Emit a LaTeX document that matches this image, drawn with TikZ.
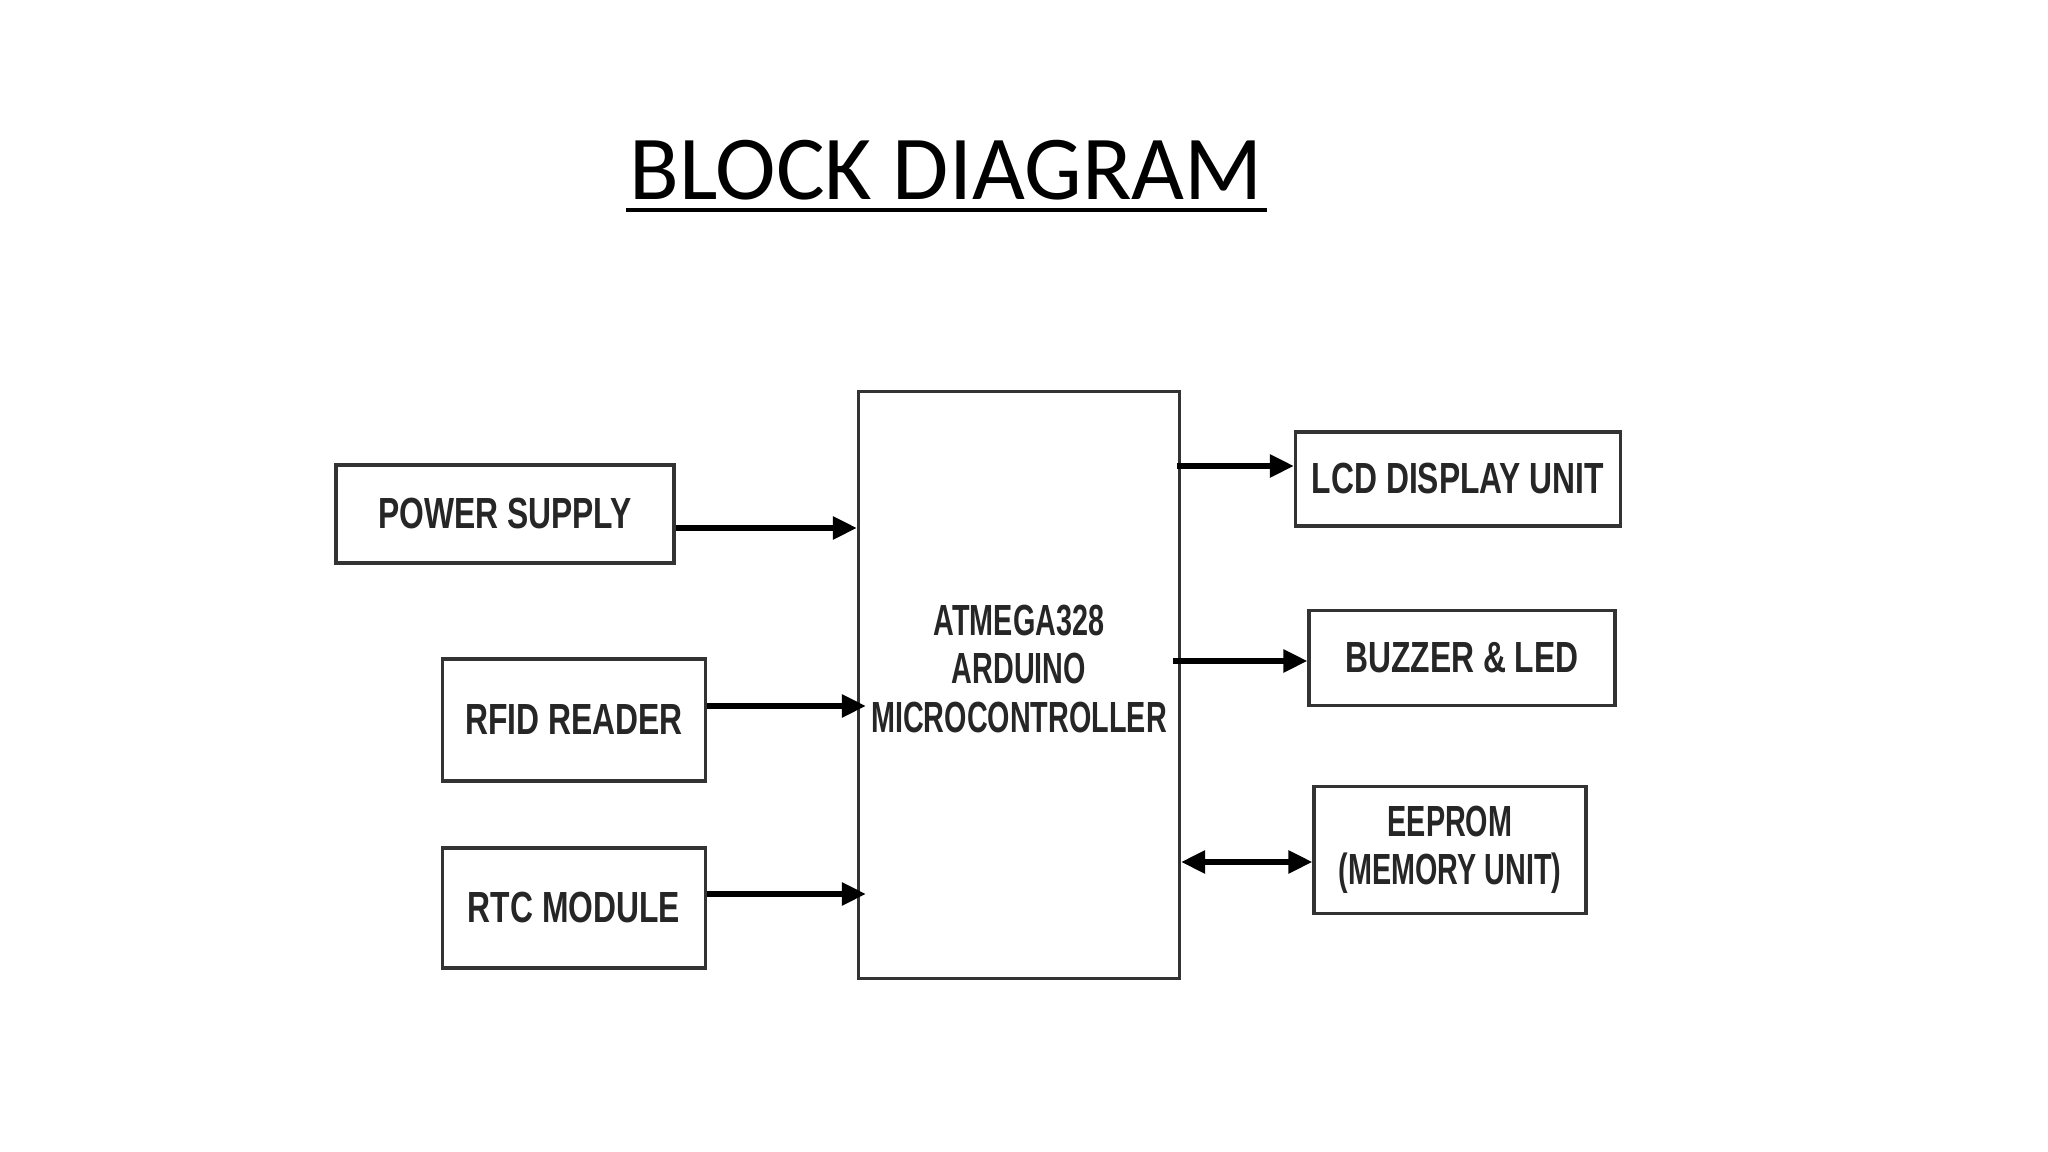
\documentclass[tikz,border=0pt]{standalone}
\usepackage{fontspec}
\setmainfont{Liberation Sans}
\newfontfamily\titlefont{Carlito}
\newfontfamily\blockfont{Liberation Sans}[FakeStretch=0.73]
\newfontfamily\narrowfont{Liberation Sans}[FakeStretch=0.66]
\usetikzlibrary{arrows.meta}
\begin{document}
\begin{tikzpicture}[
    block/.style={draw=black!80, line width=0.9pt, inner sep=0pt, align=center,
        text=black!85, font=\blockfont\bfseries\fontsize{12.4}{13.7}\selectfont},
    narrow/.style={font=\narrowfont\bfseries\fontsize{12.4}{13.7}\selectfont},
    link/.style={line width=1.6pt, -{Triangle[length=2.4mm,width=2.2mm]}},
    dlink/.style={line width=1.6pt, {Triangle[length=2.4mm,width=2.2mm]}-{Triangle[length=2.4mm,width=2.2mm]}}
  ]
            \useasboundingbox (0,0) rectangle (20.48,11.52);
            \fill[white] (0,0) rectangle (20.48,11.52);
            % title
            \node[anchor=base, inner sep=0pt, font=\titlefont\fontsize{26}{30}\selectfont] (title) at (9.46,9.52) {BLOCK DIAGRAM};
            \draw[line width=1.2pt] (6.26,9.42) -- (12.67,9.42);
            % inputs
            \node[block, minimum width=3.38cm, minimum height=0.98cm] (psu) at (5.05,6.38) {POWER SUPPLY};
            \node[block, minimum width=2.63cm, minimum height=1.22cm] (rfid) at (5.74,4.32) {RFID READER};
            \node[block, minimum width=2.63cm, minimum height=1.20cm] (rtc) at (5.74,2.44) {RTC MODULE};
            % controller
            \node[block, minimum width=3.21cm, minimum height=5.87cm] (mcu) at (10.19,4.67) {};
            \node[block, narrow, draw=none] (mcutext) at (10.19,4.83) {ATMEGA328\\ARDUINO\\MICROCONTROLLER};
            % outputs
            \node[block, minimum width=3.25cm, minimum height=0.94cm] (lcd) at (14.58,6.73) {LCD DISPLAY UNIT};
            \node[block, minimum width=3.06cm, minimum height=0.95cm] (buzz) at (14.62,4.94) {BUZZER \& LED};
            \node[block, narrow, minimum width=2.72cm, minimum height=1.27cm] (eeprom) at (14.50,3.02) {EEPROM\\(MEMORY UNIT)};
            % connections
            \coordinate (psuout) at ([yshift=-1.4mm]psu.east);
            \coordinate (rfidout) at ([yshift=1.4mm]rfid.east);
            \coordinate (rtcout) at ([yshift=1.4mm]rtc.east);
            \coordinate (lcdin) at ([yshift=1.3mm]lcd.west);
            \coordinate (buzzin) at ([yshift=-0.3mm]buzz.west);
            \coordinate (eepromin) at ([yshift=-1.2mm]eeprom.west);
            \draw[link] (psuout) -- (psuout -| mcu.west);
            \draw[link, shorten >=-0.9mm] (rfidout) -- (rfidout -| mcu.west);
            \draw[link, shorten >=-0.9mm] (rtcout) -- (rtcout -| mcu.west);
            \draw[link, shorten <=-0.4mm] (lcdin -| mcu.east) -- (lcdin);
            \draw[link, shorten <=-0.8mm] (buzzin -| mcu.east) -- (buzzin);
            \draw[dlink] (eepromin -| mcu.east) -- (eepromin);
        \end{tikzpicture}
\end{document}
